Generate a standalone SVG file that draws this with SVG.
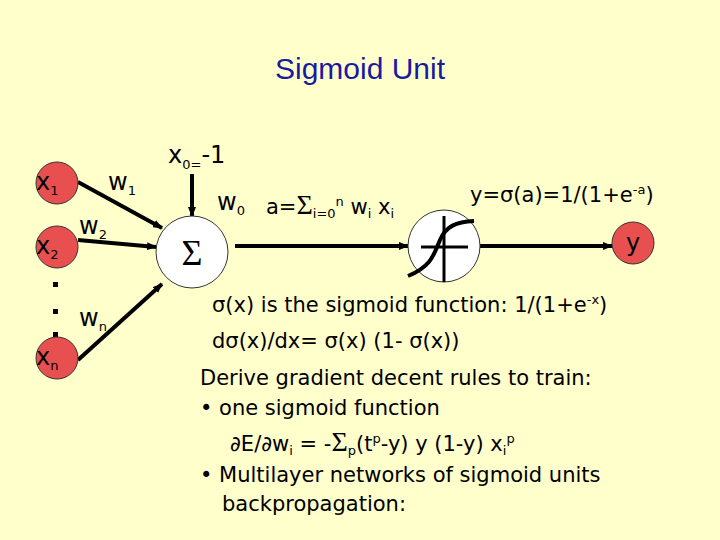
<svg xmlns="http://www.w3.org/2000/svg" width="720" height="540" viewBox="0 0 720 540">
<defs>
<marker id="ah" markerWidth="10" markerHeight="8" refX="9" refY="4" orient="auto" markerUnits="userSpaceOnUse"><path d="M0,0 L10,4 L0,8 z" fill="#000"/></marker>
<style>
text{font-family:"DejaVu Sans",Verdana,sans-serif;fill:#000}
.b{font-size:21px}
.L{font-size:24px}
.s{font-size:13px}
.red{fill:#e85050;stroke:#333;stroke-width:1}
.wh{fill:#fff;stroke:#333;stroke-width:1}
.c{stroke:#000;stroke-width:4;fill:none}
.sg{font-family:"Liberation Serif",serif;font-size:28px}
</style>
</defs>
<rect width="720" height="540" fill="#ffffcc"/>
<text x="360" y="79" text-anchor="middle" style="font-family:'Liberation Sans',Arial,sans-serif;font-size:30px;fill:#1a1aa0">Sigmoid Unit</text>
<g id="connectors">
<line class="c" x1="78" y1="182" x2="162" y2="228" marker-end="url(#ah)"/>
<line class="c" x1="78" y1="240" x2="156" y2="247" marker-end="url(#ah)"/>
<line class="c" x1="78" y1="360" x2="162" y2="284" marker-end="url(#ah)"/>
<line class="c" x1="192" y1="174" x2="192" y2="216" marker-end="url(#ah)"/>
<line class="c" x1="235" y1="246" x2="408" y2="246" marker-end="url(#ah)"/>
<line class="c" x1="480" y1="246" x2="612" y2="246" marker-end="url(#ah)"/>
</g>
<g id="x1"><circle class="red" cx="57" cy="183" r="21"/><text class="L" x="36" y="190">x<tspan class="s" dy="5">1</tspan></text></g>
<g id="x2"><circle class="red" cx="57" cy="247" r="21"/><text class="L" x="36" y="254">x<tspan class="s" dy="5">2</tspan></text></g>
<g id="dots"><rect x="53" y="282" width="5" height="5"/><rect x="53" y="309" width="5" height="5"/><rect x="53" y="332" width="5" height="5"/></g>
<g id="xn"><circle class="red" cx="57" cy="358" r="21"/><text class="L" x="36" y="365">x<tspan class="s" dy="5">n</tspan></text></g>
<g id="weights">
<text class="L" x="108" y="190">w<tspan class="s" dy="5">1</tspan></text>
<text class="L" x="79" y="234">w<tspan class="s" dy="5">2</tspan></text>
<text class="L" x="79" y="326">w<tspan class="s" dy="5">n</tspan></text>
<text class="L" x="168" y="163">x<tspan class="s" dy="6">0=</tspan><tspan dy="-6">-1</tspan></text>
<text class="L" x="217" y="210">w<tspan class="s" dy="5">0</tspan></text>
</g>
<g id="sum"><circle class="wh" cx="192" cy="252" r="36"/><text x="192" y="265" text-anchor="middle" style="font-family:'Liberation Serif',serif;font-size:36px">Σ</text></g>
<text class="b" x="266" y="214">a=<tspan class="sg">Σ</tspan><tspan class="s" dy="4">i=0</tspan><tspan class="s" dy="-12">n</tspan><tspan dy="8"> w</tspan><tspan class="s" dy="4">i</tspan><tspan dy="-4"> x</tspan><tspan class="s" dy="4">i</tspan></text>
<g id="sigmoid"><circle class="wh" cx="444" cy="246" r="36"/>
<line x1="444" y1="216" x2="444" y2="282" stroke="#000" stroke-width="3"/>
<line x1="421" y1="247" x2="468" y2="247" stroke="#000" stroke-width="3"/>
<path d="M408,276 C432,266 434,254 440,240 C446,226 456,222 474,221" class="c" stroke-width="5"/></g>
<text class="b" x="470" y="202">y=σ(a)=1/(1+e<tspan class="s" dy="-8">-a</tspan><tspan dy="8">)</tspan></text>
<g id="y"><circle class="red" cx="633" cy="243" r="21"/><text class="L" x="633" y="251" text-anchor="middle">y</text></g>
<g id="notes">
<text class="b" x="212" y="312">σ(x) is the sigmoid function: 1/(1+e<tspan class="s" dy="-8">-x</tspan><tspan dy="8">)</tspan></text>
<text class="b" x="212" y="348">dσ(x)/dx= σ(x) (1- σ(x))</text>
<text class="b" x="200" y="385">Derive gradient decent rules to train:</text>
<text class="b" x="200" y="415">• one sigmoid function</text>
<text class="b" x="230" y="451">∂E/∂w<tspan class="s" dy="4">i</tspan><tspan dy="-4"> = -</tspan><tspan class="sg">Σ</tspan><tspan class="s" dy="4">p</tspan><tspan dy="-4">(t</tspan><tspan class="s" dy="-8">p</tspan><tspan dy="8">-y) y (1-y) x</tspan><tspan class="s" dy="4">i</tspan><tspan class="s" dy="-12">p</tspan></text>
<text class="b" x="200" y="482">• Multilayer networks of sigmoid units</text>
<text class="b" x="222" y="511">backpropagation:</text>
</g>
</svg>
